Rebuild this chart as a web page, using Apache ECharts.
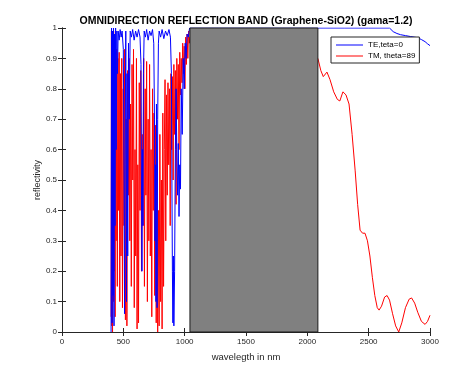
<!DOCTYPE html>
<html>
<head>
<meta charset="utf-8">
<script src="https://cdn.jsdelivr.net/npm/echarts@6/dist/echarts.min.js"></script>
<style>html,body{margin:0;padding:0;background:#fff;}#c{width:474px;height:372px;}</style>
</head>
<body>
<div id="c"></div>
<script>
// ---- data ----
const titleText = 'OMNIDIRECTION REFLECTION BAND (Graphene-SiO2) (gama=1.2)';
const xTicks = [0, 500, 1000, 1500, 2000, 2500, 3000];
const yTicks = [0, 0.1, 0.2, 0.3, 0.4, 0.5, 0.6, 0.7, 0.8, 0.9, 1];
const bandStart = [1043];
const bandEnd = [2086];

const teWave = [400,404,408,412,416,420,424,428,432,437,442,447,452,
  458,466,474,482,490,500,506,510,514,
  520,526,530,536,542,548,
  556,566,576,588,600,612,624,636,644,648,652,
  656,660,664,
  670,680,690,702,714,726,738,748,754,758,
  762,766,770,775,780,786,
  792,804,816,830,844,858,872,884,892,896,900,
  904,908,912,918,924,930,936,942,948,954,960,966,972,980,988,996,1004,1012,1020,1030,1040,
  1043,1500,2086,2300,2500,2670,2700,2730,2760,2800,2840,2870,2900,2930,2960,2980,3000];
const teRefl = [0.00,1.00,0.03,0.99,0.12,1.00,0.02,0.98,0.35,1.00,0.60,0.99,0.85,
  0.99,0.96,0.995,0.97,0.99,0.93,0.50,0.06,0.55,
  0.99,0.10,0.85,0.25,0.95,0.70,
  0.99,0.97,0.995,0.96,0.99,0.97,0.995,0.97,0.88,0.45,0.20,
  0.60,0.35,0.85,
  0.99,0.97,0.995,0.96,0.99,0.975,0.995,0.95,0.70,0.30,
  0.55,0.10,0.75,0.08,0.70,0.95,
  0.99,0.97,0.995,0.965,0.99,0.975,0.995,0.97,0.85,0.50,0.20,
  0.03,0.25,0.02,0.20,0.60,0.80,0.60,0.45,0.62,0.38,0.55,0.47,0.80,0.65,0.90,0.80,0.95,0.90,0.98,0.97,1.00,
  1.00,1.00,1.00,1.00,1.00,1.00,0.988,0.982,0.978,0.975,0.972,0.970,0.968,0.962,0.955,0.948,0.942];

const tmWave = [400,403,406,409,412,415,418,421,425,429,433,437,441,446,451,456,461,466,471,476,481,487,493,499,505,511,517,523,529,535,541,547,553,559,565,571,577,583,589,595,601,607,612,618,624,630,636,642,648,654,660,666,672,678,684,690,696,702,708,714,720,726,732,738,744,750,756,762,768,774,780,786,792,798,804,810,816,822,828,834,840,846,852,858,864,870,876,882,888,894,900,906,912,918,924,930,936,942,948,954,960,966,972,978,984,990,996,1002,1008,1014,1020,1026,1032,1038,1043,
  2086,2110,2130,2160,2185,2215,2245,2265,2290,2315,2340,2365,2390,2410,2430,2450,2470,2490,2510,2530,2550,2570,2585,2605,2630,2650,2670,2695,2720,2745,2770,2800,2830,2850,2875,2900,2930,2960,2980,3000];
const tmRefl = [0.05,0.99,0.02,0.97,0.00,0.95,0.10,0.99,0.20,0.97,0.05,0.92,0.30,0.93,0.15,0.90,0.40,0.92,0.10,0.85,0.25,0.90,0.08,0.80,0.35,0.93,0.04,0.70,0.02,0.86,0.45,0.90,0.30,0.75,0.15,0.88,0.50,0.93,0.08,0.60,0.25,0.90,0.01,0.55,0.03,0.82,0.40,0.86,0.20,0.65,0.35,0.90,0.15,0.80,0.45,0.89,0.10,0.70,0.30,0.88,0.25,0.60,0.05,0.80,0.40,0.72,0.12,0.68,0.03,0.55,0.00,0.40,0.02,0.65,0.10,0.50,0.01,0.72,0.15,0.60,0.83,0.30,0.78,0.45,0.82,0.55,0.80,0.35,0.85,0.60,0.84,0.50,0.88,0.65,0.86,0.42,0.90,0.70,0.88,0.60,0.92,0.78,0.90,0.82,0.95,0.85,0.94,0.80,0.97,0.88,0.98,0.90,0.99,0.95,0.97,
  0.90,0.86,0.84,0.855,0.83,0.79,0.765,0.76,0.79,0.78,0.75,0.65,0.53,0.42,0.335,0.325,0.325,0.30,0.25,0.18,0.12,0.08,0.072,0.085,0.115,0.12,0.105,0.06,0.02,0.00,0.03,0.08,0.108,0.112,0.095,0.065,0.035,0.025,0.035,0.055];

// ---- chart ----
const zip = (a, b) => a.map((v, i) => [v, b[i]]);
const font = "'Liberation Sans', Arial, Helvetica, sans-serif";
const axisCol = '#262626';
const teColor = '#0000ff';
const tmColor = '#ff0000';
const chart = echarts.init(document.getElementById('c'), null, {renderer: 'canvas'});
const grid = {left: 62, right: 44, top: 28, bottom: 40};
const baseX = {type: 'value', min: xTicks[0], max: xTicks[xTicks.length - 1], interval: xTicks[1] - xTicks[0],
  splitLine: {show: false}, axisLine: {lineStyle: {color: axisCol, width: 1}},
  axisTick: {inside: true, length: 4, lineStyle: {color: axisCol}}};
const baseY = {type: 'value', min: yTicks[0], max: yTicks[yTicks.length - 1], interval: 0.1,
  splitLine: {show: false}, axisLine: {show: true, lineStyle: {color: axisCol, width: 1}},
  axisTick: {show: true, inside: true, length: 4, lineStyle: {color: axisCol}}};
chart.setOption({
  animation: false,
  backgroundColor: '#fff',
  title: {text: titleText, left: 241, textAlign: 'center', top: 11,
    textStyle: {fontFamily: font, fontSize: 10.5, fontWeight: 'bold', color: '#000'}},
  grid: grid,
  legend: {data: [
      {name: 'TE,teta=0', itemStyle: {color: teColor, borderWidth: 0}},
      {name: 'TM, theta=89', itemStyle: {color: tmColor, borderWidth: 0}}],
    orient: 'vertical', left: 331, top: 37,
    icon: 'rect', itemWidth: 27, itemHeight: 1, itemGap: 3, padding: [4, 4, 3, 5],
    borderColor: axisCol, borderWidth: 1, backgroundColor: '#fff',
    textStyle: {fontFamily: font, fontSize: 8, color: '#000'}},
  xAxis: [
    Object.assign({}, baseX, {position: 'bottom', name: 'wavelegth in nm', nameLocation: 'middle', nameGap: 20,
      nameMoveOverlap: false,
      nameTextStyle: {fontFamily: font, fontSize: 9.5, color: '#262626'},
      axisLabel: {fontFamily: font, fontSize: 8, color: '#262626', margin: 6, formatter: v => String(v)}}),
    Object.assign({}, baseX, {position: 'top', axisLabel: {show: false}})
  ],
  yAxis: [
    Object.assign({}, baseY, {position: 'left', name: 'reflectivity', nameLocation: 'middle', nameGap: 20,
      nameMoveOverlap: false,
      nameTextStyle: {fontFamily: font, fontSize: 9, color: '#262626'},
      axisLabel: {fontFamily: font, fontSize: 8, color: '#262626', margin: 5, formatter: v => String(v)}}),
    Object.assign({}, baseY, {position: 'right', axisLabel: {show: false}})
  ],
  series: [
    {name: 'TE,teta=0', type: 'line', data: zip(teWave, teRefl), showSymbol: false, symbol: 'none',
      lineStyle: {color: teColor, width: 1}, itemStyle: {color: teColor}, z: 3},
    {name: 'TM, theta=89', type: 'line', data: zip(tmWave, tmRefl), showSymbol: false, symbol: 'none',
      lineStyle: {color: tmColor, width: 1}, itemStyle: {color: tmColor}, z: 2},
    {name: 'band', type: 'custom', z: 4, silent: true,
      data: zip(bandStart, bandEnd),
      encode: {x: [0, 1]},
      renderItem: function (params, api) {
        const p0 = api.coord([api.value(0), yTicks[yTicks.length - 1]]);
        const p1 = api.coord([api.value(1), yTicks[0]]);
        return {type: 'rect', shape: {x: p0[0], y: p0[1], width: p1[0] - p0[0], height: p1[1] - p0[1]},
          style: {fill: '#808080', stroke: '#1a1a1a', lineWidth: 1}};
      }}
  ]
});
</script>
</body>
</html>
